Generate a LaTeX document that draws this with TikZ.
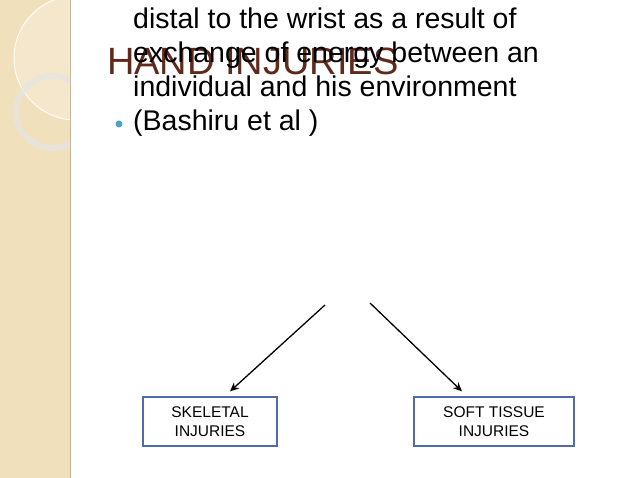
\documentclass[tikz,border=0pt]{standalone}
\usepackage{fontspec}
\setmainfont{Liberation Sans}
\usetikzlibrary{calc,arrows.meta}
\definecolor{strip}{HTML}{F1E0BC}
\definecolor{title}{HTML}{5E2A1C}
\definecolor{bul}{HTML}{4BA3C3}
\definecolor{boxc}{HTML}{4F6BA8}
\begin{document}
\begin{tikzpicture}[x=1pt,y=-1pt,
  box/.style={draw=boxc,line width=1.2pt,minimum width=134pt,minimum height=49pt,align=center,font=\fontsize{15.5}{19}\selectfont,inner sep=2pt},
  arr/.style={-{Stealth[length=9pt,width=8pt]},line width=1.3pt}]
\useasboundingbox (0,0) rectangle (638,478);
\fill[white] (0,0) rectangle (638,478);
\fill[strip] (0,0) rectangle (70,478);
\draw[color=strip!80!black,line width=0.6pt] (70,0) -- (70,478);
\begin{scope}
\clip (0,0) rectangle (70,478);
\fill[white,opacity=0.25] (76,58) circle (62);
\draw[white!90!strip,line width=1pt] (76,58) circle (62);
\draw[white!80!gray,opacity=0.7,line width=6pt] (52,112) circle (36);
\end{scope}
\node[anchor=base west,text=title,font=\fontsize{38}{40}\selectfont,inner sep=0] (t) at (107,75) {HAND INJURIES};
\fill[bul] (119,124) circle (3.5);
\node[anchor=base west,align=left,inner sep=0,font=\fontsize{28.5}{34}\selectfont] (body) at (133,131)
{Hand injury: any pathological change\\occurring in the part of the upper limb\\distal to the wrist as a result of\\exchange of energy between an\\individual and his environment\\(Bashiru et al )};
\node[box] (sk) at (210,421.5) {SKELETAL\\INJURIES};
\node[box,minimum width=160pt] (st) at (494,421.5) {SOFT TISSUE\\INJURIES};
\coordinate (a1) at (325,305);
\coordinate (a2) at (370,303);
\draw[arr] (a1) -- ($(sk.north)+(20,-5)$);
\draw[arr] (a2) -- ($(st.north)+(-32,-5)$);
\end{tikzpicture}
\end{document}
